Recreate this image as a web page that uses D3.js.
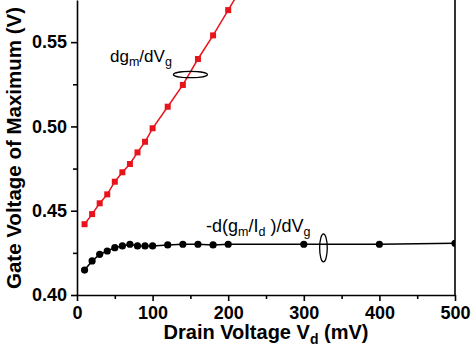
<!DOCTYPE html>
<html>
<head>
<meta charset="utf-8">
<script src="https://d3js.org/d3.v7.min.js"></script>
<style>
  body { margin: 0; background: #fff; }
  svg { font-family: "Liberation Sans", Arial, sans-serif; }
  .axis path, .axis line { stroke: #000; stroke-width: 1.6; }
  .axis text { font-size: 18px; font-weight: bold; fill: #000; }
</style>
</head>
<body>
<svg id="chart" width="474" height="354"></svg>
<script>
// Drain voltage (mV) and gate voltage of maximum (V)
const vdGm = [10, 20, 30, 40, 50, 60, 70, 80, 90, 100, 120, 140, 160, 180, 200, 220];
const vgGm = [0.442, 0.448, 0.4544, 0.4597, 0.4672, 0.4728, 0.4777, 0.4846, 0.4909,
  0.4989, 0.5117, 0.5246, 0.540, 0.554, 0.569, 0.584];

const vdGmId = [10, 20, 30, 40, 50, 60, 70, 80, 90, 100, 120, 140, 160, 180, 200, 300, 400, 500];
const vgGmId = [0.4148, 0.4202, 0.4241, 0.4261, 0.4281, 0.4291, 0.4301, 0.4291, 0.4291,
  0.4291, 0.4297, 0.4301, 0.4301, 0.4297, 0.4301, 0.4301, 0.4301, 0.4307];

const xTicks = [0, 100, 200, 300, 400, 500];
const yTicks = [0.40, 0.45, 0.50, 0.55];

const svg = d3.select("#chart");
const margin = { top: 0, right: 19, bottom: 59, left: 77 };
const width = 474 - margin.left - margin.right;
const height = 354 - margin.top - margin.bottom;

const g = svg.append("g").attr("transform", `translate(${margin.left},${margin.top})`);

const x = d3.scaleLinear().domain([0, 500]).range([0, width]);
const y = d3.scaleLinear().domain([0.40, 0.575]).range([height, 0]);

g.append("clipPath").attr("id", "clip")
  .append("rect").attr("width", width).attr("height", height);

// minor ticks
g.append("g").attr("class", "axis")
  .attr("transform", `translate(0,${height})`)
  .call(d3.axisBottom(x).tickValues(d3.range(50, 500, 100)).tickSize(4).tickFormat(""))
  .select(".domain").remove();
g.append("g").attr("class", "axis")
  .call(d3.axisLeft(y).tickValues([0.425, 0.475, 0.525]).tickSize(4).tickFormat(""))
  .select(".domain").remove();

// main axes
g.append("g").attr("class", "axis")
  .attr("transform", `translate(0,${height})`)
  .call(d3.axisBottom(x).tickValues(xTicks).tickSize(6).tickSizeOuter(0).tickPadding(5));
g.append("g").attr("class", "axis")
  .call(d3.axisLeft(y).tickValues(yTicks).tickSize(6).tickSizeOuter(0).tickPadding(4)
    .tickFormat(d3.format(".2f")));

g.append("line")
  .attr("x1", width).attr("x2", width).attr("y1", 0).attr("y2", height)
  .attr("stroke", "#000").attr("stroke-width", 1.6);

const plot = g.append("g").attr("clip-path", "url(#clip)");

const gmData = vdGm.map((d, i) => [d, vgGm[i]]);
const gmIdData = vdGmId.map((d, i) => [d, vgGmId[i]]);
const line = d3.line().x(d => x(d[0])).y(d => y(d[1]));

plot.append("path").datum(gmData)
  .attr("fill", "none").attr("stroke", "#e8141b").attr("stroke-width", 1.5)
  .attr("d", line);
plot.selectAll("rect.sq").data(gmData).join("rect")
  .attr("class", "sq")
  .attr("x", d => x(d[0]) - 3).attr("y", d => y(d[1]) - 3)
  .attr("width", 6).attr("height", 6)
  .attr("fill", "#e8141b");

plot.append("path").datum(gmIdData)
  .attr("fill", "none").attr("stroke", "#000").attr("stroke-width", 1.5)
  .attr("d", line);
plot.selectAll("circle.dot").data(gmIdData).join("circle")
  .attr("class", "dot")
  .attr("cx", d => x(d[0])).attr("cy", d => y(d[1]))
  .attr("r", 3.6).attr("fill", "#000");

// annotation ellipses
g.append("ellipse")
  .attr("cx", x(150)).attr("cy", y(0.5308)).attr("rx", 17).attr("ry", 3.2)
  .attr("fill", "none").attr("stroke", "#000").attr("stroke-width", 1.3);
g.append("ellipse")
  .attr("cx", x(326)).attr("cy", y(0.4279)).attr("rx", 3.8).attr("ry", 14)
  .attr("fill", "none").attr("stroke", "#000").attr("stroke-width", 1.3);

// series labels
function label(parts, px, py, fs) {
  const t = svg.append("text").attr("x", px).attr("y", py)
    .attr("font-size", fs).attr("fill", "#000");
  parts.forEach(p => {
    const s = t.append("tspan").text(p[0]);
    if (p[1]) s.attr("font-size", 12.5).attr("dy", 4);
    else if (p[2]) s.attr("dy", -4);
  });
  return t;
}
label([["dg"], ["m", true], ["/dV", false, true], ["g", true]], 110, 62, 17);
label([["-d(g"], ["m", true], ["/I", false, true], ["d", true], [" )/dV", false, true], ["g", true]], 206, 232, 18);

// axis titles
const xt = svg.append("text")
  .attr("x", 266).attr("y", 339)
  .attr("text-anchor", "middle").attr("font-size", 20).attr("font-weight", "bold");
xt.append("tspan").text("Drain Voltage V");
xt.append("tspan").text("d").attr("font-size", 14).attr("dy", 5);
xt.append("tspan").text(" (mV)").attr("dy", -5);

svg.append("text")
  .attr("transform", `translate(21,148) rotate(-90)`)
  .attr("text-anchor", "middle").attr("font-size", 20.5).attr("font-weight", "bold")
  .text("Gate Voltage of Maximum (V)");
</script>
</body>
</html>
